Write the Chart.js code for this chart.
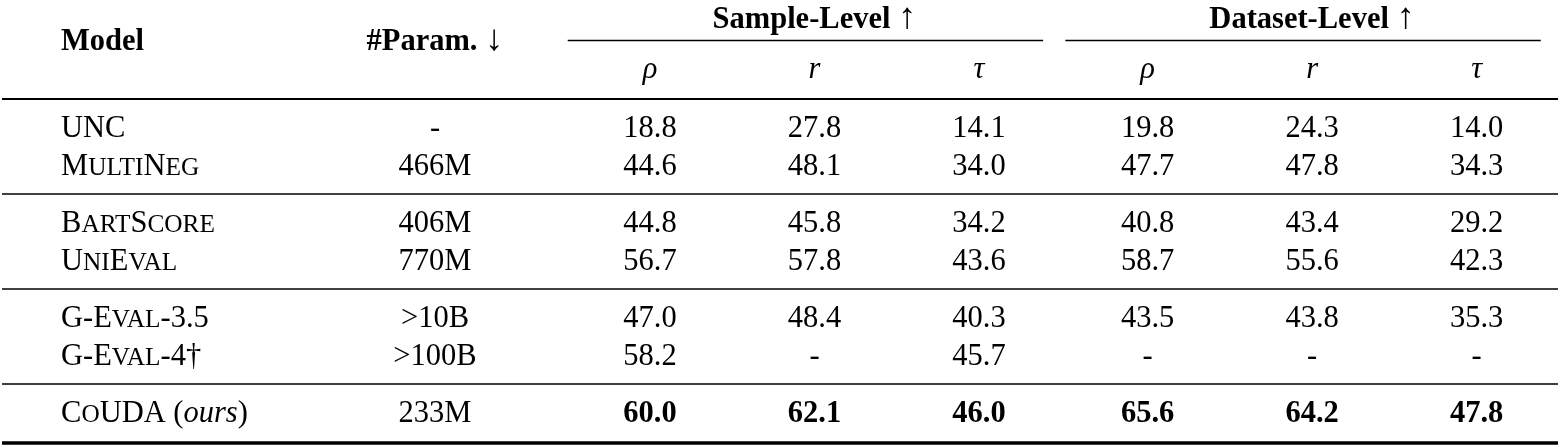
<!DOCTYPE html>
<html>
<head>
<meta charset="utf-8">
<script src="https://cdn.jsdelivr.net/npm/chart.js@4.4.1/dist/chart.umd.min.js"></script>
<style>
html, body { margin: 0; padding: 0; background: #fff; }
#wrap { width: 1561px; height: 448px; position: relative; }
</style>
</head>
<body>
<div id="wrap"><canvas id="tableChart"></canvas></div>
<script>
// table data
const models = ['UNC', 'MultiNeg', 'BartScore', 'UniEval', 'G-Eval-3.5', 'G-Eval-4†', 'CoUDA (ours)'];
const params = ['-', '466M', '406M', '770M', '>10B', '>100B', '233M'];
const sampleRho = [18.8, 44.6, 44.8, 56.7, 47.0, 58.2, 60.0];
const sampleR = [27.8, 48.1, 45.8, 57.8, 48.4, null, 62.1];
const sampleTau = [14.1, 34.0, 34.2, 43.6, 40.3, 45.7, 46.0];
const datasetRho = [19.8, 47.7, 40.8, 58.7, 43.5, null, 65.6];
const datasetR = [24.3, 47.8, 43.4, 55.6, 43.8, null, 64.2];
const datasetTau = [14.0, 34.3, 29.2, 42.3, 35.3, null, 47.8];
const groups = [0, 0, 1, 1, 2, 2, 3];

const levelLabels = ['Sample-Level', 'Dataset-Level'];
const metricLabels = ['ρ', 'r', 'τ'];
const levelCols = [[sampleRho, sampleR, sampleTau], [datasetRho, datasetR, datasetTau]];

// layout (x: one unit = one metric column, y: one unit = one row)
const FONT = '"Liberation Serif", "Times New Roman", serif';
const SIZE = 30.5;
const SMALL = 0.83;          // small caps scale
const ARROW = 1.2;           // arrows are drawn a bit larger
const modelX = -1.58, paramX = 0.693, firstMetricX = 2, levelGap = 0.025;
const tableLeft = -1.939, tableRight = 7.52;
const groupGap = 0.5;

function rowPos(i) { return i + groups[i] * groupGap; }
function metricPos(level, j) { return firstMetricX + level * (3 + levelGap) + j; }

function runsFor(text, style, smallCaps, scale) {
    const runs = [];
    const base = SIZE * (scale || 1);
    for (const ch of text) {
        const low = smallCaps && ch !== ch.toUpperCase();
        const f = `${style} ${low ? base * SMALL : base}px ${FONT}`;
        const t = low ? ch.toUpperCase() : ch;
        const last = runs[runs.length - 1];
        if (last && last.f === f) last.t += t; else runs.push({ t: t, f: f });
    }
    return runs;
}

function modelRuns(name) {
    const m = name.match(/^(.*?) \((.*)\)$/);
    if (!m) return runsFor(name, 'normal', true);
    return runsFor(m[1], 'normal', true)
        .concat(runsFor(' (', 'normal', false))
        .concat(runsFor(m[2], 'italic', false))
        .concat(runsFor(')', 'normal', false));
}

function headerRuns(label, arrow) {
    return runsFor(label + ' ', 'bold', false).concat(runsFor(arrow, 'normal', false, ARROW));
}

function drawRuns(ctx, runs, x, y, align) {
    let w = 0;
    runs.forEach(r => { ctx.font = r.f; r.w = ctx.measureText(r.t).width; w += r.w; });
    let cx = align === 'center' ? x - w / 2 : x;
    ctx.textAlign = 'left';
    runs.forEach(r => { ctx.font = r.f; ctx.fillText(r.t, cx, y); cx += r.w; });
}

function fmt(v) { return v === null ? '-' : v.toFixed(1); }

// one scatter dataset per table column; the points only carry positions
const datasets = [];
datasets.push({
    kind: 'model',
    data: models.map((_, i) => ({ x: modelX, y: rowPos(i) }))
});
datasets.push({
    kind: 'param',
    data: params.map((_, i) => ({ x: paramX, y: rowPos(i) }))
});
levelCols.forEach((cols, l) => {
    cols.forEach((values, j) => {
        const best = Math.max(...values.filter(v => v !== null));
        datasets.push({
            kind: 'metric',
            values: values,
            best: best,
            data: values.map((_, i) => ({ x: metricPos(l, j), y: rowPos(i) }))
        });
    });
});
datasets.forEach(d => { d.pointRadius = 0; d.showLine = false; });

const tablePlugin = {
    id: 'tableText',
    afterDatasetsDraw(chart) {
        const ctx = chart.ctx;
        const x = chart.scales.x, y = chart.scales.y;
        ctx.save();
        ctx.fillStyle = '#000';
        ctx.strokeStyle = '#000';
        ctx.textBaseline = 'alphabetic';

        // header
        drawRuns(ctx, runsFor('Model', 'bold', false), x.getPixelForValue(modelX), y.getPixelForValue(-2.29), 'left');
        drawRuns(ctx, headerRuns('#Param.', '↓'), x.getPixelForValue(paramX), y.getPixelForValue(-2.29), 'center');
        levelLabels.forEach((label, l) => {
            drawRuns(ctx, headerRuns(label, '↑'), x.getPixelForValue(metricPos(l, 1)), y.getPixelForValue(-2.88), 'center');
            metricLabels.forEach((m, j) => {
                drawRuns(ctx, runsFor(m, 'italic', false), x.getPixelForValue(metricPos(l, j)),
                    y.getPixelForValue(-1.553), 'center');
            });
        });

        // body cells
        chart.data.datasets.forEach((ds, d) => {
            const meta = chart.getDatasetMeta(d);
            meta.data.forEach((pt, i) => {
                if (ds.kind === 'model') {
                    drawRuns(ctx, modelRuns(models[i]), pt.x, pt.y, 'left');
                } else if (ds.kind === 'param') {
                    drawRuns(ctx, runsFor(params[i], 'normal', false), pt.x, pt.y, 'center');
                } else {
                    const v = ds.values[i];
                    const style = v !== null && v === ds.best ? 'bold' : 'normal';
                    drawRuns(ctx, runsFor(fmt(v), style, false), pt.x, pt.y, 'center');
                }
            });
        });

        // rules
        function rule(x0, x1, yv, w) {
            ctx.lineWidth = w;
            ctx.beginPath();
            ctx.moveTo(x.getPixelForValue(x0), y.getPixelForValue(yv));
            ctx.lineTo(x.getPixelForValue(x1), y.getPixelForValue(yv));
            ctx.stroke();
        }
        levelLabels.forEach((_, l) => {
            rule(metricPos(l, 0) - 0.5, metricPos(l, 2) + 0.5 - 0.11, -2.54, 1.3);
        });
        rule(tableLeft, tableRight, -1.0, 2);
        for (let g = 0; g < 3; g++) {
            const last = groups.lastIndexOf(g);
            rule(tableLeft, tableRight, rowPos(last) + 0.5, 1.6);
        }
        rule(tableLeft, tableRight, rowPos(models.length - 1) + 0.55, 3.5);
        ctx.restore();
    }
};

const ctx = document.getElementById('tableChart').getContext('2d');
new Chart(ctx, {
    type: 'scatter',
    data: { datasets: datasets },
    options: {
        responsive: true,
        maintainAspectRatio: false,
        animation: false,
        events: [],
        layout: { padding: 0 },
        plugins: { legend: { display: false }, tooltip: { enabled: false } },
        scales: {
            x: { type: 'linear', display: false, min: -1.951, max: 7.538 },
            y: { type: 'linear', display: false, reverse: true, min: -137 / 38, max: (448 - 137) / 38 }
        }
    },
    plugins: [tablePlugin]
});
</script>
</body>
</html>
